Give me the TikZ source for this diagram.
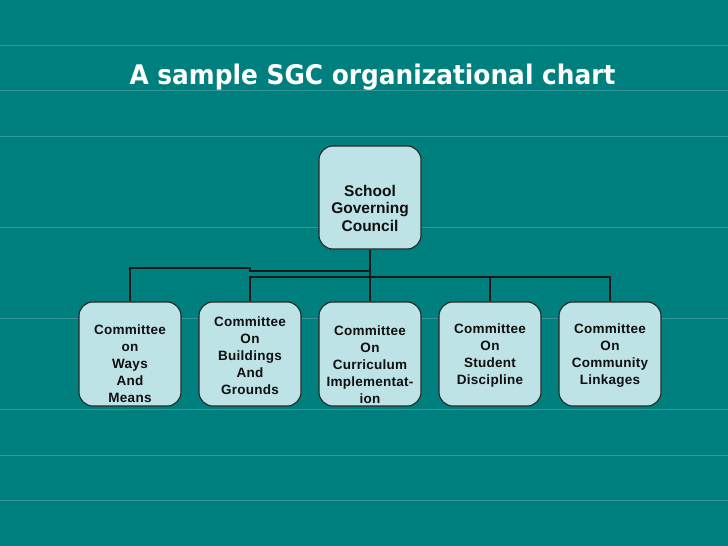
\documentclass[tikz,border=0pt]{standalone}
\usepackage{fontspec}
\setmainfont{Liberation Sans}
\newfontfamily\titlefont[FakeStretch=0.92]{DejaVu Sans}
\newfontfamily\boxfont[LetterSpace=2]{Liberation Sans}
\newfontfamily\topfont{Liberation Sans}
\definecolor{bgteal}{RGB}{0,127,127}
\definecolor{rulecol}{RGB}{52,152,152}
\definecolor{boxfill}{RGB}{190,227,230}
\definecolor{boxtext}{RGB}{15,15,15}
\tikzset{
  orgbox/.style={draw=black!85, line width=1.1pt, fill=boxfill, rounded corners=14pt,
    minimum width=102pt, minimum height=104pt, inner sep=0pt},
  boxlabel/.style={align=center, text=boxtext, inner sep=0pt,
    font=\boxfont\bfseries\fontsize{13.5}{17}\selectfont},
  toplabel/.style={align=center, text=boxtext, inner sep=0pt,
    font=\topfont\bfseries\fontsize{15.5}{17.5}\selectfont},
  link/.style={draw=black!90, line width=2.2pt},
  bgrule/.style={draw=rulecol, line width=0.7pt}
}
\begin{document}
\begin{tikzpicture}[x=1pt,y=-1pt]
\fill[bgteal] (0,0) rectangle (728,546);
\useasboundingbox (0,0) rectangle (728,546);
\foreach \yy in {45.5,90.5,136,227,318,409,455,500}
  \draw[bgrule] (0,\yy) -- (728,\yy);

\node[text=white, font=\titlefont\bfseries\fontsize{27}{30}\selectfont] (title) at (372.5,77) {A sample SGC organizational chart};

% boxes
\node[orgbox, minimum height=103pt] (sgc) at (370,197.5) {};
\node[orgbox] (b1) at (130,354) {};
\node[orgbox] (b2) at (250,354) {};
\node[orgbox] (b3) at (370,354) {};
\node[orgbox] (b4) at (490,354) {};
\node[orgbox] (b5) at (610,354) {};

% labels
\node[toplabel] (sgct) at (370,208) {School\\Governing\\Council};
\node[boxlabel] (t1) at (130,364) {Committee\\on\\Ways\\And\\Means};
\node[boxlabel] (t2) at (250,356) {Committee\\On\\Buildings\\And\\Grounds};
\node[boxlabel] (t3) at (370,364.5) {Committee\\On\\Curriculum\\Implementat-\\ion};
\node[boxlabel] (t4) at (490,355.5) {Committee\\On\\Student\\Discipline};
\node[boxlabel] (t5) at (610,355.5) {Committee\\On\\Community\\Linkages};

% connectors
\coordinate (bus) at (370,277);
\coordinate (bend) at (250,271);
\draw[link] (sgc.south) -- (bus);
\draw[link] (b2.north) |- (b5.north |- bus) -- (b5.north);
\draw[link] (b3.north) -- (bus);
\draw[link] (b4.north) -- (b4.north |- bus);
\draw[link] (b1.north) -- (130,268) -- (250,268) -- (bend) -- (370,271);
\end{tikzpicture}
\end{document}
